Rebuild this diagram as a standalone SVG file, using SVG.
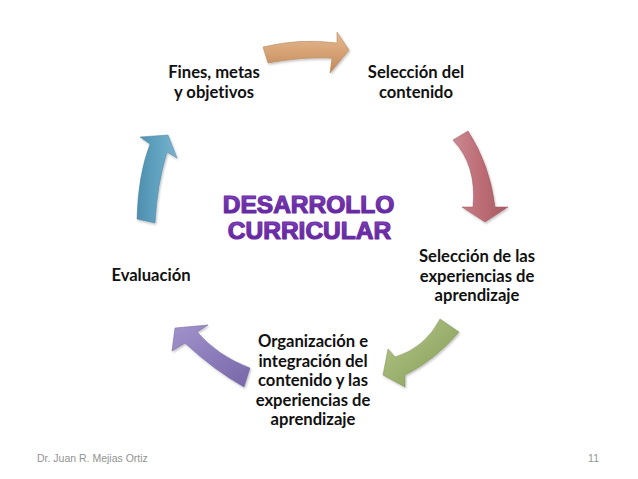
<svg xmlns="http://www.w3.org/2000/svg" width="638" height="479" viewBox="0 0 638 479">
  <defs>
    <style>
      .lbl { font-family: Lato, "Open Sans", "Liberation Sans", sans-serif; font-weight: 700; font-size: 16.6px; fill: #111; text-anchor: middle; font-variant-ligatures: none; font-feature-settings: "liga" 0, "clig" 0; }
      .title { font-family: "Liberation Sans", Arial, sans-serif; font-weight: 700; font-size: 24.5px; fill: url(#gTitle); stroke: #6a2ea6; stroke-width: 1.2; stroke-linejoin: round; text-anchor: middle; }
      .foot { font-family: "Liberation Sans", Arial, sans-serif; font-size: 10.5px; fill: #939393; }
      .arrow { stroke-width: 0.8; stroke-opacity: 0.6; filter: url(#sh); }
    </style>
    <filter id="sh" x="-20%" y="-20%" width="140%" height="140%">
      <feDropShadow dx="1" dy="1.5" stdDeviation="1.2" flood-color="#000" flood-opacity="0.25"/>
    </filter>
    <linearGradient id="gTitle" x1="0" y1="0" x2="0" y2="1">
      <stop offset="0" stop-color="#8a4cc4"/>
      <stop offset="0.5" stop-color="#6e2fa8"/>
      <stop offset="1" stop-color="#5e2394"/>
    </linearGradient>
    <linearGradient id="gTop" x1="0" y1="0" x2="0" y2="1">
      <stop offset="0" stop-color="#e4ba92"/>
      <stop offset="0.5" stop-color="#d6a274"/>
      <stop offset="1" stop-color="#bf895c"/>
    </linearGradient>
    <linearGradient id="gRight" x1="0" y1="0" x2="1" y2="0">
      <stop offset="0" stop-color="#c98990"/>
      <stop offset="0.5" stop-color="#bd6d76"/>
      <stop offset="1" stop-color="#a65a62"/>
    </linearGradient>
    <linearGradient id="gGreen" x1="0" y1="0" x2="1" y2="1">
      <stop offset="0" stop-color="#b4c78d"/>
      <stop offset="0.5" stop-color="#9db16f"/>
      <stop offset="1" stop-color="#87995b"/>
    </linearGradient>
    <linearGradient id="gPurple" x1="0" y1="0" x2="1" y2="1">
      <stop offset="0" stop-color="#a293cb"/>
      <stop offset="0.5" stop-color="#8d7cbb"/>
      <stop offset="1" stop-color="#7767a8"/>
    </linearGradient>
    <linearGradient id="gBlue" x1="0" y1="0" x2="1" y2="0">
      <stop offset="0" stop-color="#4f8fae"/>
      <stop offset="0.5" stop-color="#60a2c0"/>
      <stop offset="1" stop-color="#7ab3cf"/>
    </linearGradient>
  </defs>

  <rect x="0" y="0" width="638" height="479" fill="#ffffff"/>

  <g id="connectors">
    <path id="arrow-fines-seleccion" class="arrow" fill="url(#gTop)" stroke="#b07c50"
          d="M 263,47 Q 300,38 337,43 L 337,32 L 349,50 L 330,73 L 332,58 Q 300,57 268,63 Z"/>
    <path id="arrow-seleccion-experiencias" class="arrow" fill="url(#gRight)" stroke="#9c5058"
          d="M 453,140 L 468,131 Q 490,165 495,207 L 508,207 L 485,222 L 462,207 L 473,207 Q 477,165 453,140 Z"/>
    <path id="arrow-experiencias-organizacion" class="arrow" fill="url(#gGreen)" stroke="#7c8e50"
          d="M 440,319 L 459,332 Q 435,360 405,375 L 405,387 L 383,375 L 388,349 L 395,357 Q 425,348 440,319 Z"/>
    <path id="arrow-organizacion-evaluacion" class="arrow" fill="url(#gPurple)" stroke="#6b5c9c"
          d="M 250,368 L 244,387 Q 214,370 185,343 L 172,351 L 175,328 L 208,325 L 197,332 Q 218,356 250,368 Z"/>
    <path id="arrow-evaluacion-fines" class="arrow" fill="url(#gBlue)" stroke="#46829f"
          d="M 137,219 Q 138,175 150,144 L 140,137 L 168,135 L 177,158 L 167,152 Q 157,185 155,223 Z"/>
  </g>

  <g id="node-fines">
    <text class="lbl" x="214" y="78">Fines, metas</text>
    <text class="lbl" x="214" y="97.5">y objetivos</text>
  </g>
  <g id="node-seleccion-contenido">
    <text class="lbl" x="416" y="78">Selección del</text>
    <text class="lbl" x="416" y="97.5">contenido</text>
  </g>
  <g id="node-seleccion-experiencias">
    <text class="lbl" x="477" y="262">Selección de las</text>
    <text class="lbl" x="477" y="281.5">experiencias de</text>
    <text class="lbl" x="477" y="301">aprendizaje</text>
  </g>
  <g id="node-organizacion">
    <text class="lbl" x="313" y="347">Organización e</text>
    <text class="lbl" x="313" y="366.5">integración del</text>
    <text class="lbl" x="313" y="386">contenido y las</text>
    <text class="lbl" x="313" y="405.5">experiencias de</text>
    <text class="lbl" x="313" y="425">aprendizaje</text>
  </g>
  <g id="node-evaluacion">
    <text class="lbl" x="151" y="281">Evaluación</text>
  </g>

  <g id="title">
    <text class="title" x="308.5" y="213">DESARROLLO</text>
    <text class="title" x="309.5" y="239">CURRICULAR</text>
  </g>

  <g id="footer">
    <text class="foot" x="37" y="462">Dr. Juan R. Mejias Ortiz</text>
    <text class="foot" x="599" y="462" text-anchor="end">11</text>
  </g>
</svg>
